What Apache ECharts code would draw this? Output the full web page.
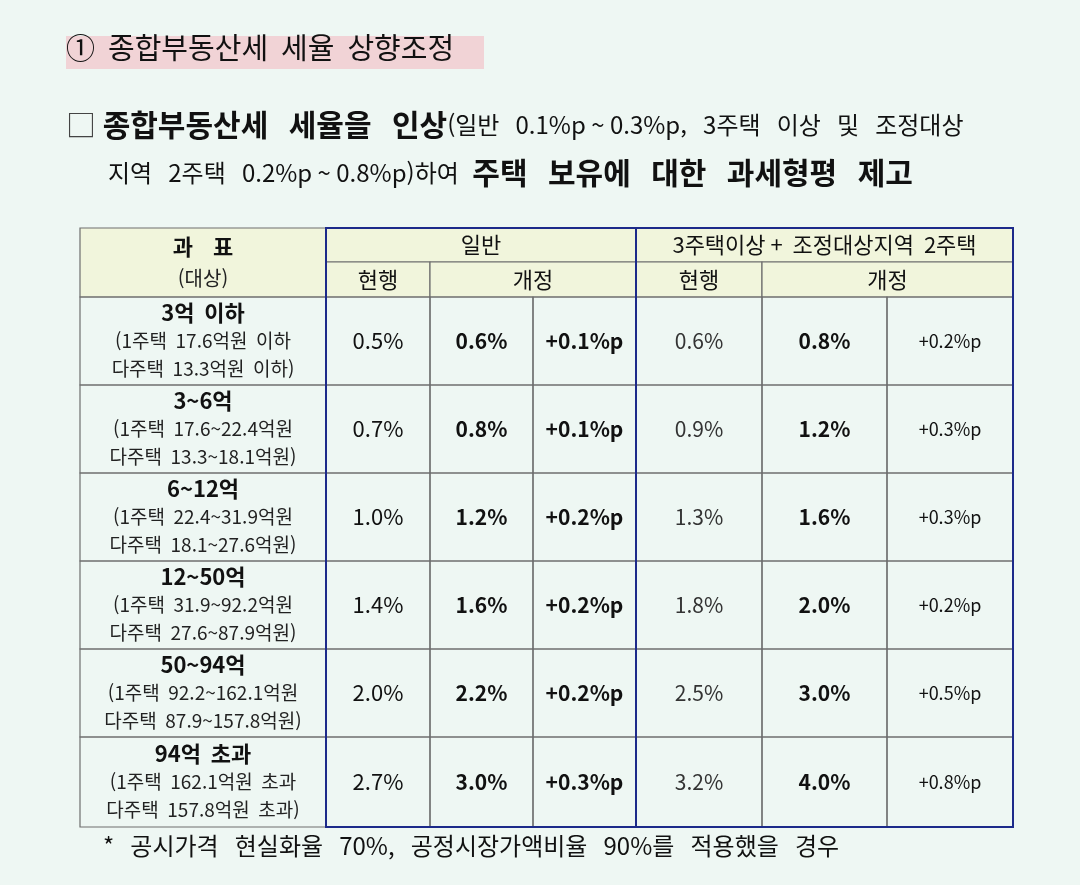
<!DOCTYPE html>
<html lang="ko">
<head>
<meta charset="UTF-8"/>
<title>종합부동산세 세율 상향조정</title>
<style>
  html, body { margin: 0; padding: 0; background: #eef7f3; overflow: hidden; }
  #chart { width: 1080px; height: 885px; }
</style>
</head>
<body>
<div id="chart"></div>
<script src="https://cdn.jsdelivr.net/npm/echarts@6/dist/echarts.min.js"></script>
<script>
// table data
const bands = ['3억  이하', '3~6억', '6~12억', '12~50억', '50~94억', '94억  초과'];
const bandSingle = ['(1주택  17.6억원  이하', '(1주택  17.6~22.4억원', '(1주택  22.4~31.9억원',
  '(1주택  31.9~92.2억원', '(1주택  92.2~162.1억원', '(1주택  162.1억원  초과'];
const bandMulti = ['다주택  13.3억원  이하)', '다주택  13.3~18.1억원)', '다주택  18.1~27.6억원)',
  '다주택  27.6~87.9억원)', '다주택  87.9~157.8억원)', '다주택  157.8억원  초과)'];
const generalNow = [0.5, 0.7, 1.0, 1.4, 2.0, 2.7];
const generalNew = [0.6, 0.8, 1.2, 1.6, 2.2, 3.0];
const multiNow = [0.6, 0.9, 1.3, 1.8, 2.5, 3.2];
const multiNew = [0.8, 1.2, 1.6, 2.0, 3.0, 4.0];

// layout of the grid (column / row edges in table units)
const colEdge = [0, 246, 350, 453, 556, 682, 807, 933];
const rowEdge = [0, 34, 69, 157, 245, 333, 421, 509, 599];

const FONT = '"Noto Sans CJK KR", sans-serif';
const HEAD_BG = '#f1f5dc';
const pct = v => v.toFixed(1) + '%';
const diff = (a, b) => '+' + (b - a).toFixed(1) + '%p';

// cells: [c0, c1, r0, r1, text, kind]
const cells = [];
cells.push([0, 1, 0, 2, '{h|과    표}\n{s|(대상)}', 'head']);
cells.push([1, 4, 0, 1, '일반', 'headN']);
cells.push([4, 7, 0, 1, '3주택이상 +  조정대상지역  2주택', 'headN']);
cells.push([1, 2, 1, 2, '현행', 'headN']);
cells.push([2, 4, 1, 2, '개정', 'headN']);
cells.push([4, 5, 1, 2, '현행', 'headN']);
cells.push([5, 7, 1, 2, '개정', 'headN']);
bands.forEach((b, i) => {
  const r = i + 2;
  cells.push([0, 1, r, r + 1, '{t|' + b + '}\n{s|' + bandSingle[i] + '}\n{s|' + bandMulti[i] + '}', 'label']);
  cells.push([1, 2, r, r + 1, pct(generalNow[i]), 'plain']);
  cells.push([2, 3, r, r + 1, pct(generalNew[i]), 'bold']);
  cells.push([3, 4, r, r + 1, diff(generalNow[i], generalNew[i]), 'bold']);
  cells.push([4, 5, r, r + 1, pct(multiNow[i]), 'light']);
  cells.push([5, 6, r, r + 1, pct(multiNew[i]), 'bold']);
  cells.push([6, 7, r, r + 1, diff(multiNow[i], multiNew[i]), 'small']);
});
// blue frames for the two rate groups
const frames = [[1, 4, 0, 8, '', 'frame'], [4, 7, 0, 8, '', 'frame']];

const styles = {
  head:  { fill: HEAD_BG },
  headN: { fill: HEAD_BG, font: 'normal 22px ' + FONT },
  label: { fill: 'transparent' },
  plain: { fill: 'transparent', font: 'normal 22px ' + FONT },
  bold:  { fill: 'transparent', font: 'bold 21px ' + FONT },
  light: { fill: 'transparent', font: 'normal 21px ' + FONT, color: '#333' },
  small: { fill: 'transparent', font: 'normal 18px ' + FONT }
};

function renderItem(params, api) {
  const c0 = api.value(0), c1 = api.value(1), r0 = api.value(2), r1 = api.value(3);
  const idx = params.dataIndex;
  const item = params.seriesIndex === 0 ? cells[idx] : frames[idx];
  const p0 = api.coord([colEdge[c0], rowEdge[r0]]);
  const p1 = api.coord([colEdge[c1], rowEdge[r1]]);
  const shape = { x: p0[0], y: p0[1], width: p1[0] - p0[0], height: p1[1] - p0[1] };
  if (item[5] === 'frame') {
    return { type: 'rect', shape, style: { fill: 'none', stroke: '#1c2a8a', lineWidth: 2 } };
  }
  const st = styles[item[5]];
  const textStyle = {
    text: item[4], x: shape.x + shape.width / 2, y: shape.y + shape.height / 2,
    align: 'center', verticalAlign: 'middle', fill: st.color || '#111',
    font: st.font || ('normal 20px ' + FONT)
  };
  if (item[5] === 'head') {
    textStyle.rich = {
      h: { font: 'bold 22px ' + FONT, lineHeight: 32 },
      s: { font: 'normal 20px ' + FONT, lineHeight: 32, fill: '#222' }
    };
  }
  if (item[5] === 'label') {
    textStyle.rich = {
      t: { font: 'bold 22px ' + FONT, lineHeight: 28 },
      s: { font: 'normal 19px ' + FONT, lineHeight: 28, fill: '#222' }
    };
  }
  return {
    type: 'group',
    children: [
      { type: 'rect', shape, style: { fill: st.fill, stroke: '#6e6e6e', lineWidth: 1.2 } },
      { type: 'text', style: textStyle }
    ]
  };
}

const chart = echarts.init(document.getElementById('chart'));
chart.setOption({
  backgroundColor: '#eef7f3',
  animation: false,
  graphic: [
    { type: 'rect', shape: { x: 66, y: 36, width: 418, height: 33 }, style: { fill: '#f1d3d6' } },
    { type: 'text', left: 66, top: 33, style: { text: '①  종합부동산세  세율  상향조정', font: 'normal 29px ' + FONT, fill: '#111' } },
    { type: 'text', left: 66, top: 110, style: {
      text: '{n|□}  {b|종합부동산세   세율을   인상}{m|(일반   0.1%p ~ 0.3%p,   3주택   이상   및   조정대상}',
      rich: { n: { font: 'normal 30px ' + FONT, fill: '#444' }, b: { font: 'bold 30px ' + FONT, fill: '#111' }, m: { font: 'normal 24px ' + FONT, fill: '#111' } }
    } },
    { type: 'text', left: 108, top: 158, style: {
      text: '{m|지역   2주택   0.2%p ~ 0.8%p)하여}  {b| 주택   보유에   대한   과세형평   제고}',
      rich: { b: { font: 'bold 30px ' + FONT, fill: '#111' }, m: { font: 'normal 24px ' + FONT, fill: '#111' } }
    } },
    { type: 'text', left: 103, top: 834, style: { text: '*   공시가격   현실화율   70%,   공정시장가액비율   90%를   적용했을   경우', font: 'normal 24px ' + FONT, fill: '#111' } }
  ],
  grid: { left: 80, top: 228, width: 933, height: 599 },
  xAxis: { type: 'value', min: 0, max: 933, show: false },
  yAxis: { type: 'value', min: 0, max: 599, inverse: true, show: false },
  series: [
    { type: 'custom', renderItem, data: cells.map(c => c.slice(0, 4)), silent: true },
    { type: 'custom', renderItem, data: frames.map(c => c.slice(0, 4)), silent: true, z: 3 }
  ]
});
</script>
</body>
</html>
